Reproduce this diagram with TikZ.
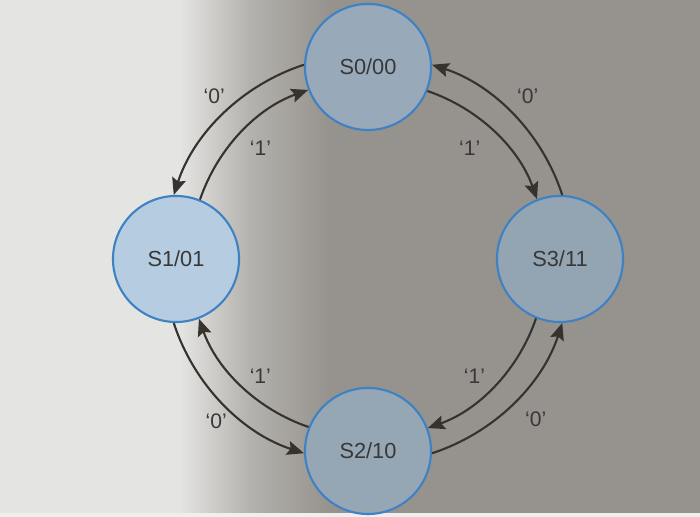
\documentclass[tikz,border=0pt]{standalone}
\usepackage{fontspec}
\setmainfont{Liberation Sans}
\usetikzlibrary{arrows.meta}
\definecolor{bgL}{HTML}{E4E4E2}
\definecolor{bgM}{HTML}{B4B2AE}
\definecolor{bgR}{HTML}{96928D}
\definecolor{fillLit}{HTML}{B6CDE1}
\definecolor{fillDark}{HTML}{98A9B9}
\definecolor{ringBlue}{HTML}{3E82C4}
\definecolor{inkArrow}{HTML}{36322E}
\definecolor{inkText}{HTML}{383838}
\tikzset{
  statenode/.style={circle, draw=ringBlue, line width=1.5pt, minimum size=3.15cm, inner sep=0pt,
    font=\fontsize{15.5}{17}\selectfont, text=inkText},
  trans/.style={draw=inkArrow, line width=1.5pt, looseness=0.9,
    -{Stealth[length=12pt, width=10pt, inset=2pt]}},
  lbl/.style={font=\fontsize{15}{17}\selectfont, text=inkText, inner sep=0pt}
}
\begin{document}
\begin{tikzpicture}[x=0.025cm, y=0.025cm]
  % photographed page background
  \fill[bgL] (0,0) rectangle (180,517);
  \shade[left color=bgL, right color=bgM] (180,0) rectangle (250,517);
  \shade[left color=bgM, right color=bgR] (250,0) rectangle (330,517);
  \fill[bgR] (330,0) rectangle (700,517);
  \fill[bgL!60!white] (0,0) rectangle (700,4);
  \useasboundingbox (0,0) rectangle (700,517);

  \node[statenode, fill=fillDark] (s0) at (368,450) {S0/00};
  \node[statenode, fill=fillLit]  (s1) at (176,258) {S1/01};
  \node[statenode, fill=fillDark!97!black] (s3) at (560,258) {S3/11};
  \node[statenode, fill=fillDark!98!black] (s2) at (368,66)  {S2/10};

  % outer ring: input '0' (counter-clockwise)
  \draw[trans] (s0.178) to[bend right=27]
     node[lbl, shift={(-9,18)}] (l0a) {‘0’} (s1.92);
  \draw[trans] (s1.268) to[bend right=27]
     node[lbl, shift={(-7,-17)}] (l0b) {‘0’} (s2.182);
  \draw[trans] (s2.358) to[bend right=27]
     node[lbl, shift={(23,-15)}] (l0c) {‘0’} (s3.272);
  \draw[trans] (s3.88) to[bend right=27]
     node[lbl, shift={(15,18)}] (l0d) {‘0’} (s0.2);

  % inner ring: input '1' (clockwise)
  \draw[trans] (s1.68.7) to[bend left=25.8]
     node[lbl, shift={(19,-16)}] (l1a) {‘1’} (s0.201.3);
  \draw[trans] (s0.338.7) to[bend left=25.8]
     node[lbl, shift={(-25,-16)}] (l1b) {‘1’} (s3.111.3);
  \draw[trans] (s3.248.7) to[bend left=25.8]
     node[lbl, shift={(-20,9)}] (l1c) {‘1’} (s2.21.3);
  \draw[trans] (s2.158.7) to[bend left=25.8]
     node[lbl, shift={(19,9)}] (l1d) {‘1’} (s1.291.3);
\end{tikzpicture}
\end{document}
